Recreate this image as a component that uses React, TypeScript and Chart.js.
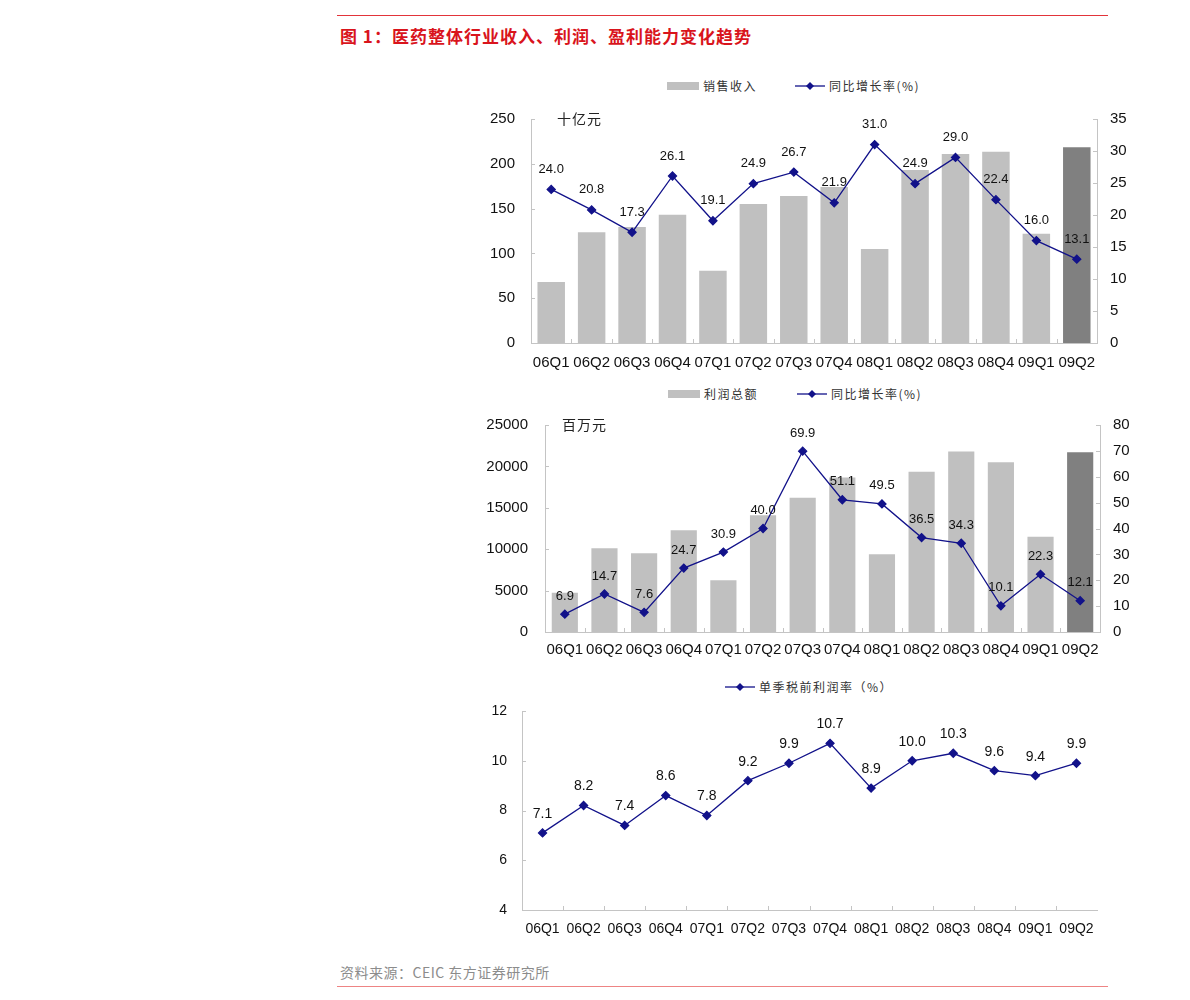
import React, { useEffect, useRef } from 'react';
import { Chart, registerables } from 'chart.js';

Chart.register(...registerables);

// ---- data ----
const quarters = ['06Q1', '06Q2', '06Q3', '06Q4', '07Q1', '07Q2', '07Q3', '07Q4', '08Q1', '08Q2', '08Q3', '08Q4', '09Q1', '09Q2'];
// 销售收入 (十亿元)
const salesRevenue = [68, 123.5, 129.5, 143, 80.5, 155, 164, 174, 105, 193, 211, 213.5, 122, 218.5];
// 销售收入同比增长率 (%)
const salesGrowth = [24.0, 20.8, 17.3, 26.1, 19.1, 24.9, 26.7, 21.9, 31.0, 24.9, 29.0, 22.4, 16.0, 13.1];
// 利润总额 (百万元)
const totalProfit = [4750, 10100, 9500, 12300, 6250, 14100, 16200, 18650, 9400, 19350, 21800, 20500, 11500, 21700];
// 利润同比增长率 (%)
const profitGrowth = [6.9, 14.7, 7.6, 24.7, 30.9, 40.0, 69.9, 51.1, 49.5, 36.5, 34.3, 10.1, 22.3, 12.1];
// 单季税前利润率 (%)
const pretaxMargin = [7.1, 8.2, 7.4, 8.6, 7.8, 9.2, 9.9, 10.7, 8.9, 10.0, 10.3, 9.6, 9.4, 9.9];

const revenueTicks = [0, 50, 100, 150, 200, 250];
const revenueGrowthTicks = [0, 5, 10, 15, 20, 25, 30, 35];
const profitTicks = [0, 5000, 10000, 15000, 20000, 25000];
const profitGrowthTicks = [0, 10, 20, 30, 40, 50, 60, 70, 80];
const marginTicks = [4, 6, 8, 10, 12];

// ---- styles ----
const LATIN = '"Liberation Sans", Arial, sans-serif';
const CJK = '"Noto Sans CJK SC", "Noto Sans", sans-serif';
const AXIS_GRAY = '#c4c4c4';
const NAVY = '#12128a';
const BAR_GRAY = '#c0c0c0';
const BAR_DARK = '#808080';

// short tick marks drawn inward from every axis line
const innerTicks = {
  id: 'innerTicks',
  afterDraw(chart: any) {
    const { ctx, chartArea } = chart;
    ctx.save();
    ctx.strokeStyle = AXIS_GRAY;
    ctx.lineWidth = 1;
    Object.values(chart.scales).forEach((s: any) => {
      if (!s.options.display) return;
      if (s.axis === 'y') {
        s.ticks.forEach((_t: any, i: number) => {
          const y = Math.round(s.getPixelForTick(i)) + 0.5;
          ctx.beginPath();
          if (s.position === 'left') {
            ctx.moveTo(chartArea.left, y);
            ctx.lineTo(chartArea.left + 4, y);
          } else {
            ctx.moveTo(chartArea.right - 4, y);
            ctx.lineTo(chartArea.right, y);
          }
          ctx.stroke();
        });
      } else {
        const n = s.getLabels().length;
        const w = (chartArea.right - chartArea.left) / n;
        for (let i = 1; i < n; i++) {
          const x = Math.round(chartArea.left + i * w) + 0.5;
          ctx.beginPath();
          ctx.moveTo(x, chartArea.bottom - 4);
          ctx.lineTo(x, chartArea.bottom);
          ctx.stroke();
        }
      }
    });
    ctx.restore();
  },
};

// value labels above the line points
const pointLabels = {
  id: 'pointLabels',
  afterDatasetsDraw(chart: any, _args: any, opts: any) {
    if (!opts || opts.datasetIndex === undefined) return;
    const meta = chart.getDatasetMeta(opts.datasetIndex);
    const values = chart.data.datasets[opts.datasetIndex].data;
    const { ctx } = chart;
    ctx.save();
    ctx.font = `${opts.size}px ${LATIN}`;
    ctx.fillStyle = '#111';
    ctx.textAlign = 'center';
    ctx.textBaseline = 'middle';
    meta.data.forEach((pt: any, i: number) => {
      ctx.fillText(Number(values[i]).toFixed(1), pt.x + (opts.dx || 0), pt.y - opts.offset);
    });
    ctx.restore();
  },
};

// unit caption in the upper-left corner of the plot
const unitCaption = {
  id: 'unitCaption',
  afterDraw(chart: any, _args: any, opts: any) {
    if (!opts || !opts.text) return;
    const { ctx, chartArea } = chart;
    ctx.save();
    ctx.font = `14px ${CJK}`;
    ctx.fillStyle = '#222';
    ctx.textAlign = 'left';
    ctx.textBaseline = 'middle';
    (ctx as any).letterSpacing = '1px';
    ctx.fillText(opts.text, chartArea.left + opts.dx, chartArea.top);
    ctx.restore();
  },
};

Chart.register(innerTicks, pointLabels, unitCaption);

// fixed axis sizes so the plot areas of the three charts line up predictably
const fixWidth = (w: number) => (s: any) => {
  s.width = w;
  s.paddingTop = 0;
  s.paddingBottom = 0;
};
const fixHeight = (h: number) => (s: any) => {
  s.height = h;
};

const axisTickFont = (size: number) => ({ family: LATIN, size });

function yAxis(position: 'left' | 'right', tickValues: number[], width: number, padding: number, size: number, border = true) {
  return {
    type: 'linear',
    position,
    min: tickValues[0],
    max: tickValues[tickValues.length - 1],
    afterBuildTicks: (s: any) => {
      s.ticks = tickValues.map((v) => ({ value: v }));
    },
    afterFit: fixWidth(width),
    grid: { display: false, drawTicks: false },
    border: { display: border, color: AXIS_GRAY, width: 1 },
    ticks: { color: '#111', font: axisTickFont(size), padding, callback: (v: any) => String(v) },
  };
}

function xAxis(padding: number, size: number) {
  return {
    type: 'category',
    offset: true,
    afterFit: fixHeight(30),
    grid: { display: false, drawTicks: false, offset: true },
    border: { display: true, color: AXIS_GRAY, width: 1 },
    ticks: { color: '#111', font: axisTickFont(size), padding, autoSkip: false, maxRotation: 0, minRotation: 0 },
  };
}

function comboConfig(bars: number[], line: number[], leftTicks: number[], rightTicks: number[], leftW: number, leftPad: number, barPct: number, unit: string, unitDx: number, labelOffset: number, xPad: number) {
  return {
    data: {
      labels: quarters,
      datasets: [
        {
          type: 'line',
          data: line,
          yAxisID: 'y1',
          order: 0,
          borderColor: NAVY,
          backgroundColor: NAVY,
          borderWidth: 1.3,
          pointStyle: 'rectRot',
          pointRadius: 4,
          pointBackgroundColor: NAVY,
          pointBorderColor: NAVY,
          tension: 0,
        },
        {
          type: 'bar',
          data: bars,
          yAxisID: 'y',
          order: 1,
          backgroundColor: bars.map((_v, i) => (i === bars.length - 1 ? BAR_DARK : BAR_GRAY)),
          borderWidth: 0,
          barPercentage: barPct,
          categoryPercentage: 1,
        },
      ],
    },
    options: {
      responsive: false,
      maintainAspectRatio: false,
      animation: false,
      layout: { padding: { top: 14, left: 0, right: 0, bottom: 0 } },
      scales: {
        x: xAxis(xPad, 15),
        y: yAxis('left', leftTicks, leftW, leftPad, 15),
        y1: yAxis('right', rightTicks, 35, 13, 15),
      },
      plugins: {
        legend: { display: false },
        tooltip: { enabled: false },
        pointLabels: { datasetIndex: 0, offset: labelOffset, size: 13 },
        unitCaption: { text: unit, dx: unitDx },
      },
    },
  };
}

function marginConfig() {
  return {
    type: 'line',
    data: {
      labels: quarters,
      datasets: [
        {
          data: pretaxMargin,
          borderColor: NAVY,
          backgroundColor: NAVY,
          borderWidth: 1.3,
          pointStyle: 'rectRot',
          pointRadius: 4,
          pointBackgroundColor: NAVY,
          pointBorderColor: NAVY,
          tension: 0,
        },
      ],
    },
    options: {
      responsive: false,
      maintainAspectRatio: false,
      animation: false,
      layout: { padding: { top: 14, left: 0, right: 20, bottom: 0 } },
      scales: {
        x: xAxis(11, 14),
        y: yAxis('left', marginTicks, 52, 15, 14),
      },
      plugins: {
        legend: { display: false },
        tooltip: { enabled: false },
        pointLabels: { datasetIndex: 0, offset: 19, size: 14 },
      },
    },
  };
}

function ChartCanvas({ left, top, width, height, build }: { left: number; top: number; width: number; height: number; build: () => any }) {
  const ref = useRef<HTMLCanvasElement | null>(null);
  useEffect(() => {
    if (!ref.current) return;
    const chart = new Chart(ref.current, build());
    return () => chart.destroy();
  }, []);
  return <canvas ref={ref} width={width} height={height} style={{ position: 'absolute', left, top, width, height }} />;
}

const legendText: React.CSSProperties = {
  position: 'absolute',
  fontFamily: CJK,
  fontSize: 12,
  letterSpacing: '1.5px',
  color: '#333',
  lineHeight: '16px',
  whiteSpace: 'nowrap',
};

function LegendBar({ x, y, label }: { x: number; y: number; label: string }) {
  return (
    <>
      <div style={{ position: 'absolute', left: x, top: y - 4, width: 32, height: 8, background: BAR_GRAY }} />
      <div style={{ ...legendText, left: x + 36, top: y - 8 }}>{label}</div>
    </>
  );
}

function LegendLine({ x, y, label }: { x: number; y: number; label: string }) {
  return (
    <>
      <svg style={{ position: 'absolute', left: x, top: y - 5 }} width={30} height={10}>
        <line x1={0} y1={5} x2={30} y2={5} stroke={NAVY} strokeWidth={1.3} />
        <polygon points="15,1 19,5 15,9 11,5" fill={NAVY} />
      </svg>
      <div style={{ ...legendText, left: x + 34, top: y - 8 }}>{label}</div>
    </>
  );
}

export default function App() {
  return (
    <div style={{ position: 'absolute', left: 0, top: 0, width: 1190, height: 1000, background: '#fff', overflow: 'hidden' }}>
      <div style={{ position: 'absolute', left: 337, top: 15, width: 771, height: 1, background: '#e2343a' }} />
      <div
        style={{
          position: 'absolute',
          left: 340,
          top: 24,
          fontFamily: CJK,
          fontWeight: 700,
          fontSize: 17,
          letterSpacing: '1px',
          lineHeight: '24px',
          color: '#d9141c',
          whiteSpace: 'nowrap',
        }}
      >
        图 1：医药整体行业收入、利润、盈利能力变化趋势
      </div>

      <LegendBar x={667} y={86} label="销售收入" />
      <LegendLine x={795} y={86} label="同比增长率(%)" />
      <ChartCanvas
        left={470}
        top={105}
        width={662}
        height={268}
        build={() => comboConfig(salesRevenue, salesGrowth, revenueTicks, revenueGrowthTicks, 61, 16, 0.68, '十亿元', 26, 20, 11) as any}
      />

      <LegendBar x={668} y={394} label="利润总额" />
      <LegendLine x={797} y={394} label="同比增长率(%)" />
      <ChartCanvas
        left={470}
        top={411}
        width={665}
        height={251}
        build={() => comboConfig(totalProfit, profitGrowth, profitTicks, profitGrowthTicks, 75, 17, 0.66, '百万元', 17, 18, 9) as any}
      />

      <LegendLine x={725} y={687} label="单季税前利润率（%）" />
      <ChartCanvas left={470} top={697} width={647} height={243} build={() => marginConfig() as any} />

      <div
        style={{
          position: 'absolute',
          left: 340,
          top: 962,
          fontFamily: CJK,
          fontSize: 14,
          letterSpacing: '0.5px',
          lineHeight: '20px',
          color: '#8c8c8c',
          whiteSpace: 'nowrap',
        }}
      >
        资料来源：CEIC 东方证券研究所
      </div>
      <div style={{ position: 'absolute', left: 337, top: 986, width: 771, height: 1, background: '#ee8484' }} />
    </div>
  );
}
